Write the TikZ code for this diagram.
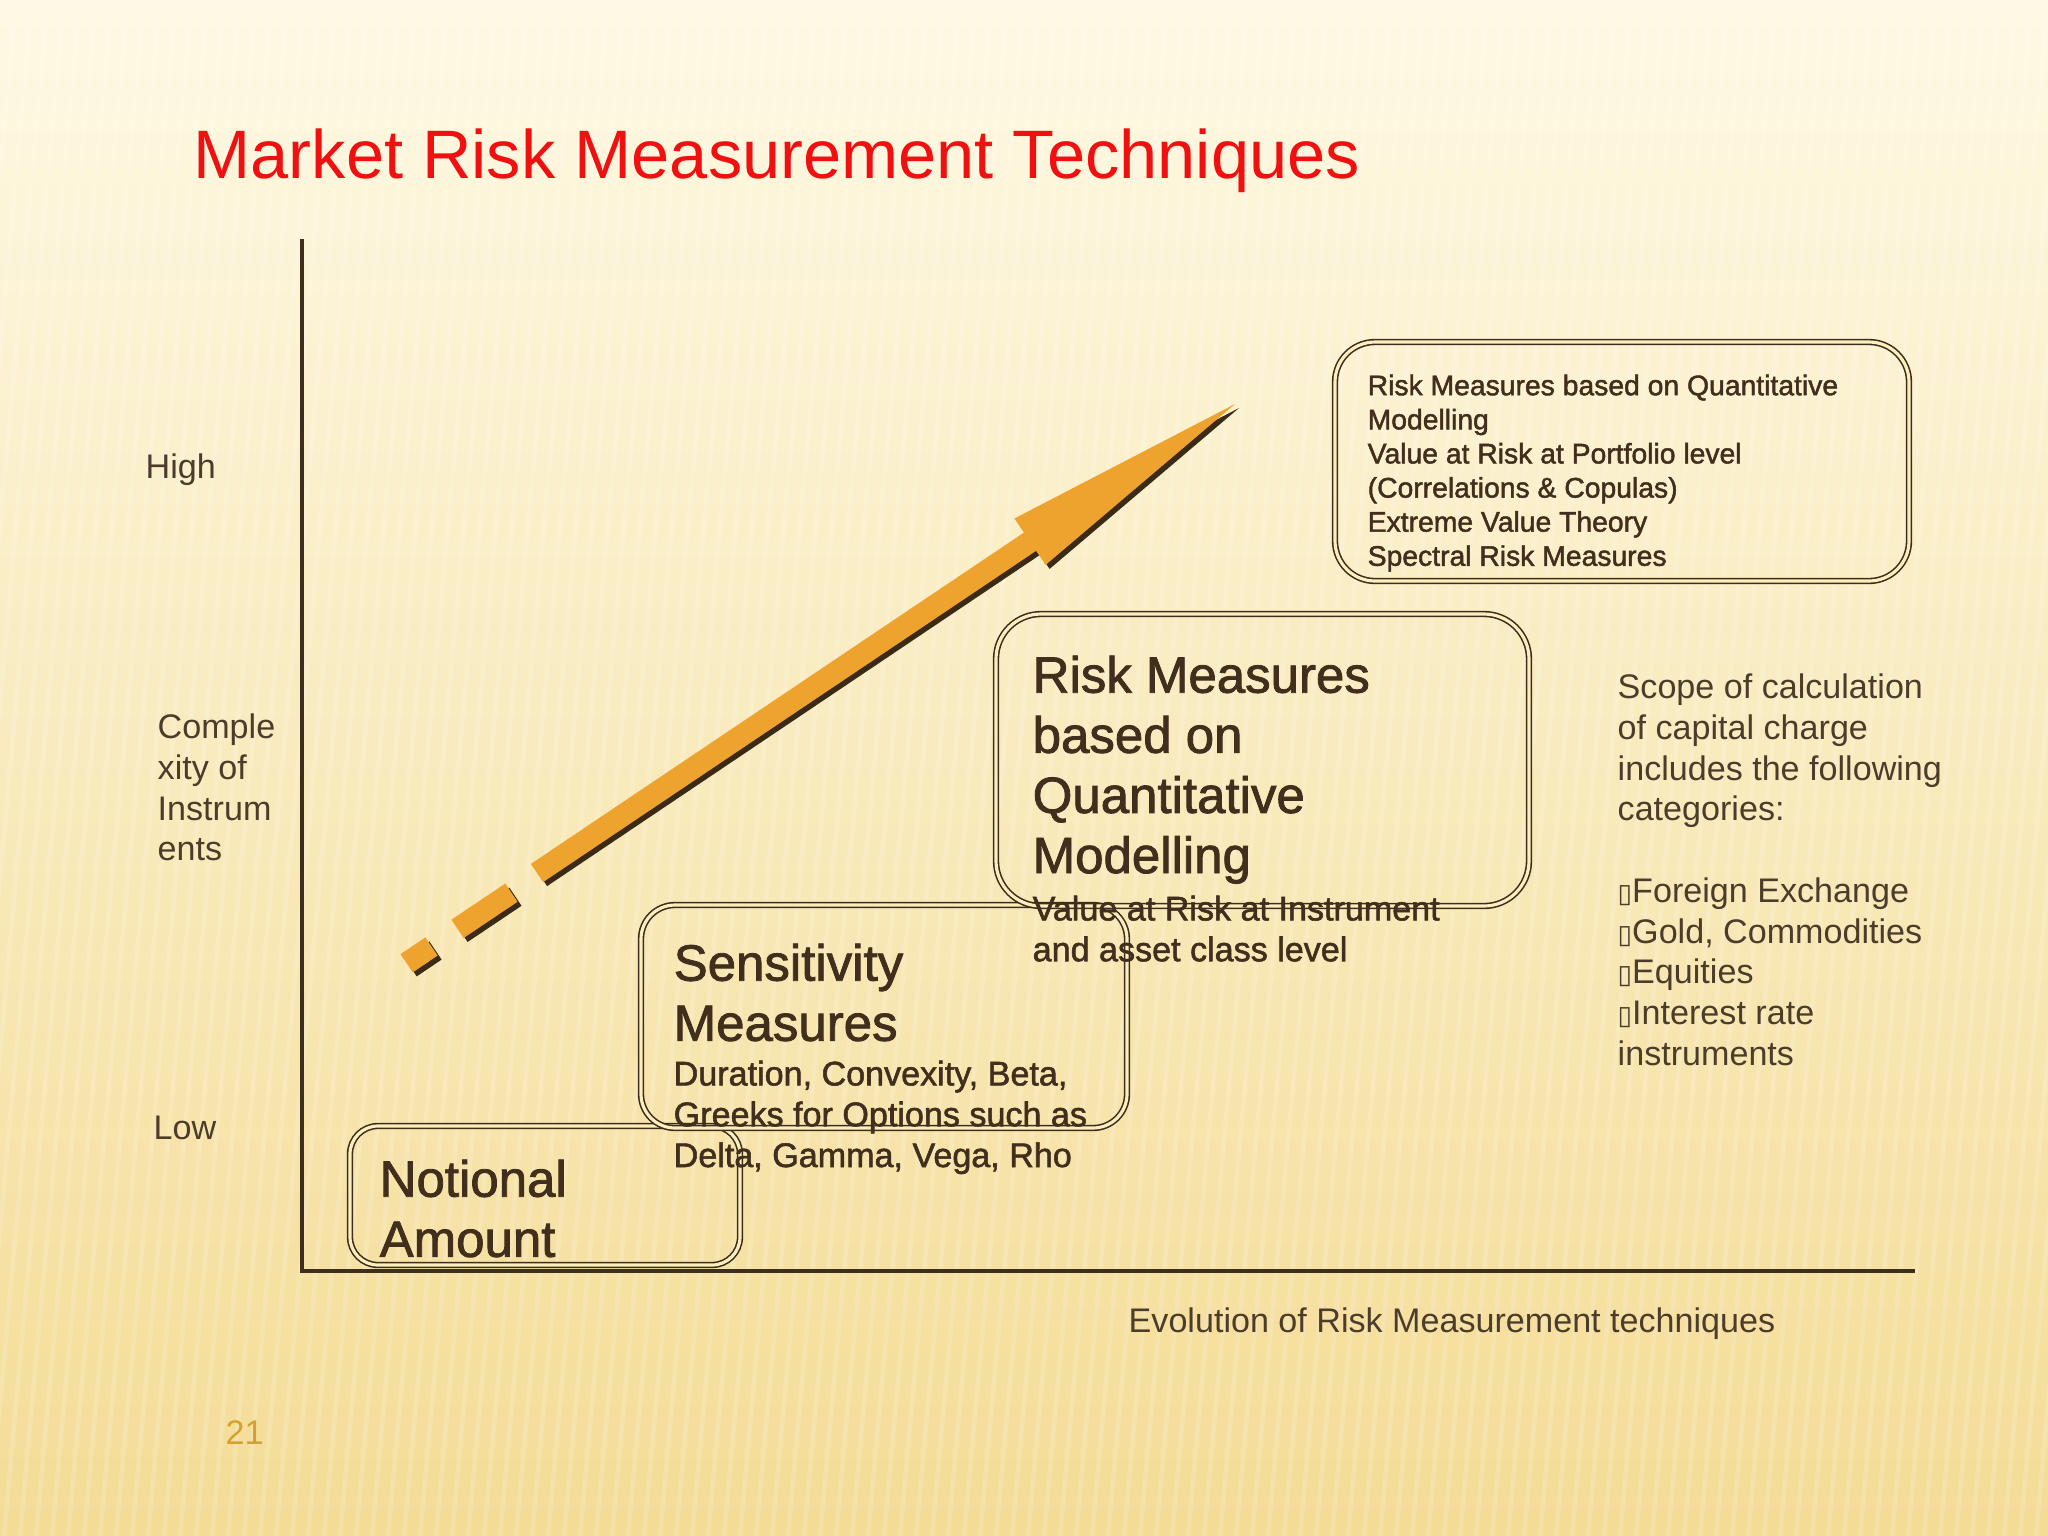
\documentclass[tikz,border=0pt]{standalone}
\usepackage{fontspec}
\setmainfont{Liberation Sans}
\newfontfamily\dvfont{DejaVu Sans}
\newfontfamily\boxfont[FakeBold=1.6]{Liberation Sans}
\definecolor{bgtop}{RGB}{254,249,228}
\definecolor{bgmid}{RGB}{252,239,190}
\definecolor{bgbot}{RGB}{244,220,150}
\definecolor{axiscol}{RGB}{62,46,30}
\definecolor{labcol}{RGB}{76,60,42}
\definecolor{boxtext}{RGB}{66,46,28}
\definecolor{boxline}{RGB}{62,44,28}
\definecolor{arrowfill}{RGB}{239,163,47}
\definecolor{shadowcol}{RGB}{58,42,22}
\definecolor{pagenum}{RGB}{214,160,48}
\definecolor{titlered}{RGB}{240,16,16}
\newcommand\fsz[2]{\fontsize{#1}{#2}\selectfont}
\newcommand\tofu{{\dvfont\fsz{7.5}{11.6}▯}}
\begin{document}
\begin{tikzpicture}[x=0.01cm,y=-0.01cm,
  lab/.style={anchor=north west,inner sep=0pt,text=labcol,align=left,font=\fsz{9.7}{11.6}},
  boxhead/.style={anchor=north west,inner sep=0pt,text=boxtext,align=left,font=\boxfont\fsz{14.5}{17.1}},
  boxsub/.style={anchor=north west,inner sep=0pt,text=boxtext,align=left,font=\boxfont\fsz{9.7}{11.6}},
  dbox/.style={draw=boxline,line width=0.45pt,double=bgmid,double distance=0.9pt},
  axis/.style={draw=axiscol,line width=1.2pt},
  arrowshape/.style={fill=arrowfill},
  arrowshadow/.style={fill=shadowcol}]
\useasboundingbox (0,0) rectangle (2048,1536);
% background
\shade[top color=bgtop,middle color=bgmid,bottom color=bgbot] (0,0) rectangle (2048,1536);
\foreach \i in {-10,...,140}{
  \draw[white,opacity=0.16,line width=1.3pt] (\i*16,0) -- (\i*16-140,1536);
}
% title
\node[anchor=north west,inner sep=0pt,text=titlered,font=\fsz{19.5}{23}] (title) at (193,128) {Market Risk Measurement Techniques};
% axes
\coordinate (origin) at (302,1271);
\coordinate (ytop) at (302,239);
\coordinate (xend) at (1915,1271);
\draw[axis] (ytop) -- (origin) -- (xend);
% axis labels
\node[lab] (high) at (145,453) {High};
\node[lab] (cplx) at (157,713) {Comple\\xity of\\Instrum\\ents};
\node[lab] (low) at (153,1115) {Low};
\node[lab] (evol) at (1128,1307) {Evolution of Risk Measurement techniques};
\node[lab,text=pagenum] (pnum) at (225,1420) {21};
% scope text
\node[lab] (scope) at (1617,673) {Scope of calculation\\of capital charge\\includes the following\\categories:\\[11.6pt]\tofu Foreign Exchange\\\tofu Gold, Commodities\\\tofu Equities\\\tofu Interest rate\\instruments};
% arrow (shadow then body)
\begin{scope}[shift={(4,4)}]
  \fill[arrowshadow] (530.9,863.9) -- (1023.9,532.6) -- (1014.4,518.5) -- (1235,404) -- (1045.6,564.9) -- (1036.1,550.8) -- (543.1,882.1) -- cycle;
  \fill[arrowshadow] (451.4,919.7) -- (505.3,883.5) -- (517.5,901.8) -- (463.6,938.0) -- cycle;
  \fill[arrowshadow] (400.5,954.1) -- (425.4,937.4) -- (437.6,955.6) -- (412.7,972.4) -- cycle;
\end{scope}
\fill[arrowshape] (530.9,863.9) -- (1023.9,532.6) -- (1014.4,518.5) -- (1235,404) -- (1045.6,564.9) -- (1036.1,550.8) -- (543.1,882.1) -- cycle;
\fill[arrowshape] (451.4,919.7) -- (505.3,883.5) -- (517.5,901.8) -- (463.6,938.0) -- cycle;
\fill[arrowshape] (400.5,954.1) -- (425.4,937.4) -- (437.6,955.6) -- (412.7,972.4) -- cycle;
% boxes
\draw[dbox,rounded corners=0.28cm] (350,1126) rectangle (740,1265);
\draw[dbox,rounded corners=0.34cm] (641,905) rectangle (1127,1128);
\draw[dbox,rounded corners=0.45cm] (996,614) rectangle (1529,906);
\draw[dbox,rounded corners=0.4cm] (1335,342) rectangle (1909,581);
% box texts
\node[boxhead] (notional) at (379,1159) {Notional\\Amount};
\node[boxhead] (sens) at (673,943) {Sensitivity\\Measures};
\node[boxsub] (senssub) at (673,1060) {Duration, Convexity, Beta,\\Greeks for Options such as\\Delta, Gamma, Vega, Rho};
\node[boxhead] (quant) at (1032,655) {Risk Measures\\based on\\Quantitative\\Modelling};
\node[boxsub] (quantsub) at (1032,895) {Value at Risk at Instrument\\and asset class level};
\node[anchor=north west,inner sep=0pt,text=boxtext,align=left,font=\boxfont\fsz{8.05}{9.7}] (port) at (1367,374) {Risk Measures based on Quantitative\\Modelling\\Value at Risk at Portfolio level\\(Correlations \& Copulas)\\Extreme Value Theory\\Spectral Risk Measures};
\end{tikzpicture}
\end{document}
